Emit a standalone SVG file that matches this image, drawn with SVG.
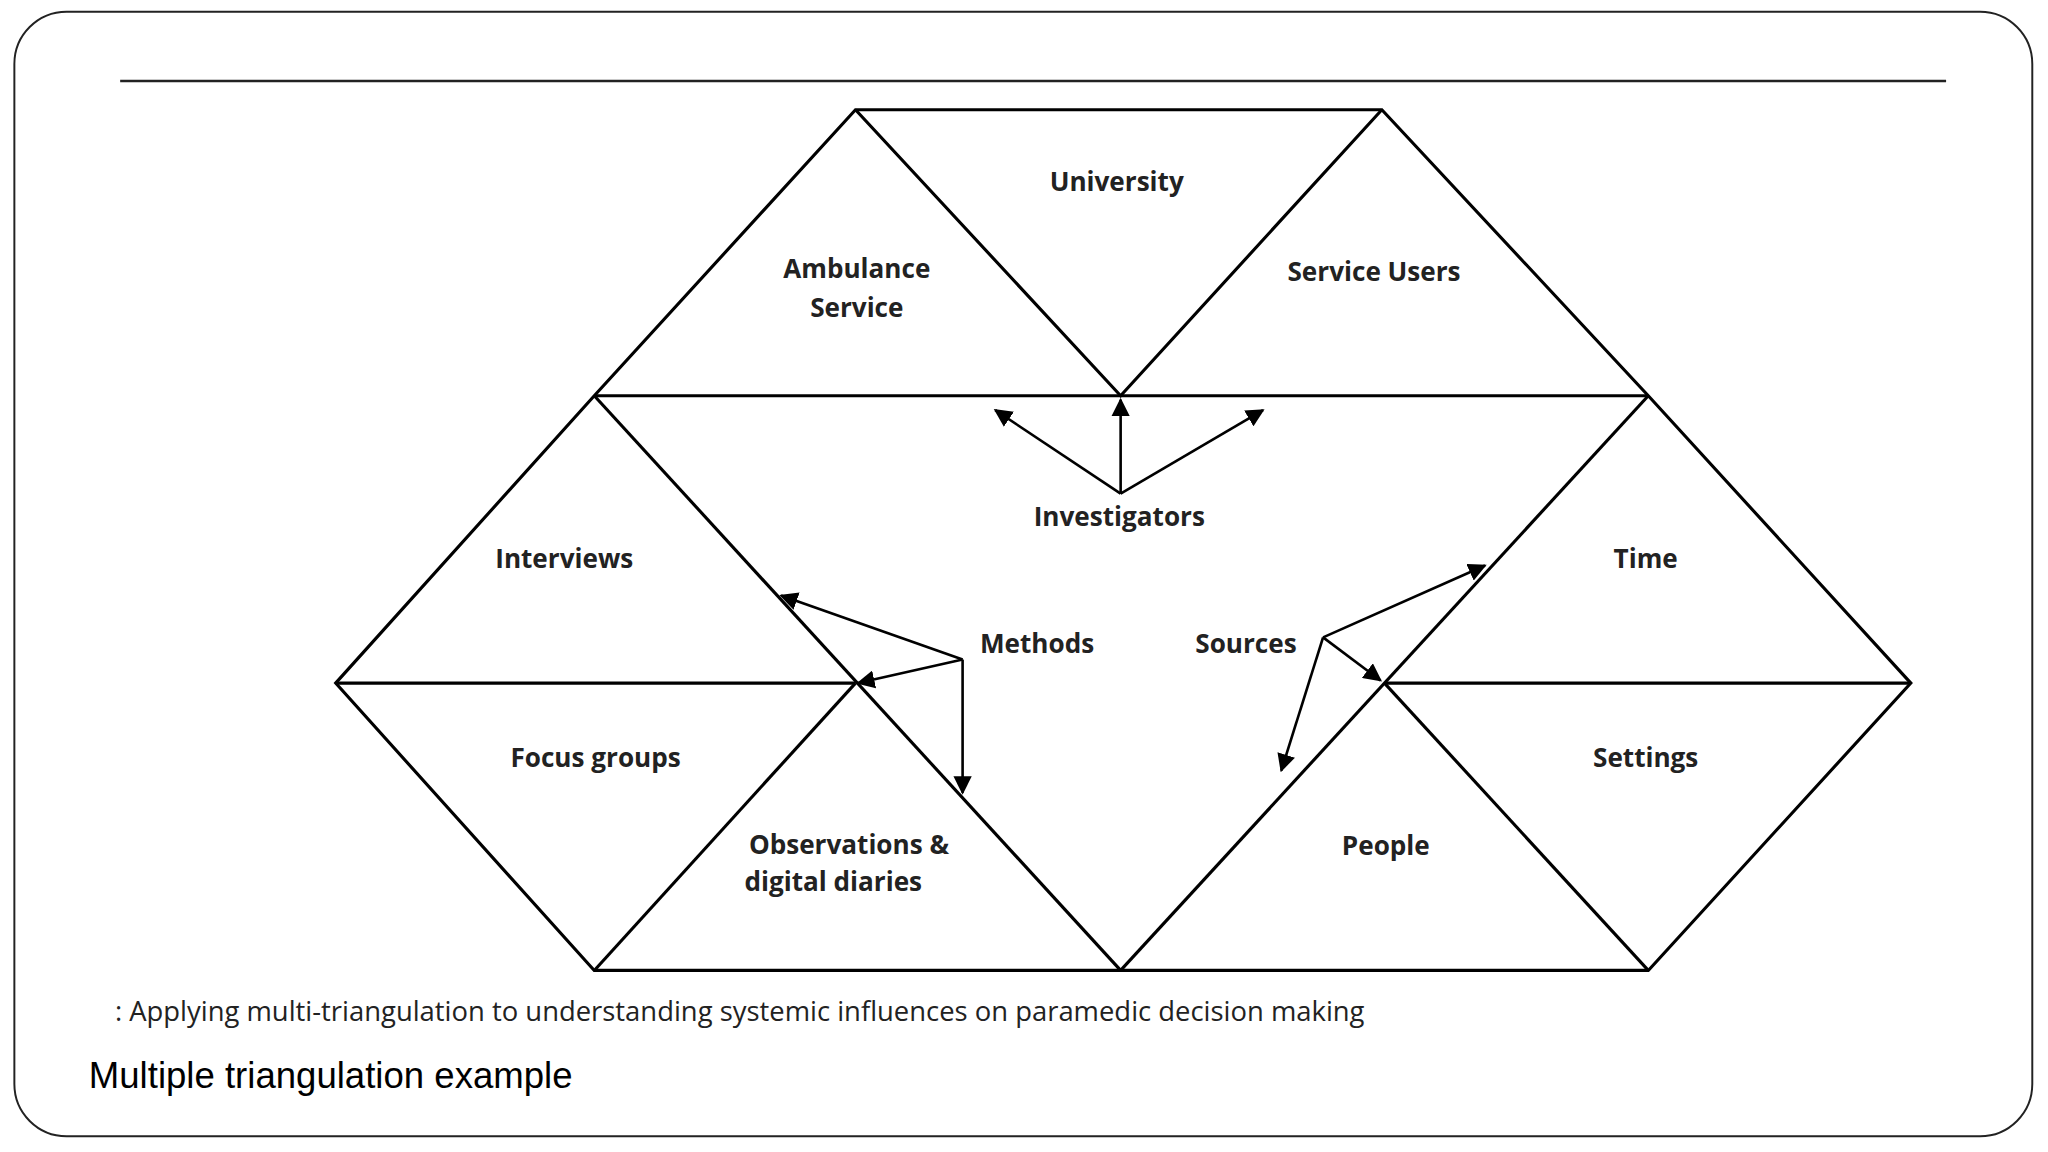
<svg xmlns="http://www.w3.org/2000/svg" width="2048" height="1152" viewBox="0 0 2048 1152">
<style>
.l{stroke:#000;stroke-width:2.4;fill:none}
.t{font-family:"Open Sans","DejaVu Sans",sans-serif;font-weight:bold;font-size:20px;fill:#222;text-anchor:middle}
</style>
<defs><marker id="a" viewBox="0 0 10 10" refX="9" refY="5" markerWidth="7" markerHeight="7" orient="auto"><path d="M0,0L10,5L0,10z" fill="#000"/></marker></defs>
<rect width="2048" height="1152" fill="#fff"/>
<g transform="scale(1.3061)">
<rect x="11" y="9" width="1545" height="861" rx="40" fill="none" stroke="#222" stroke-width="1.5"/>
<line x1="92" y1="62" x2="1490" y2="62" stroke="#222" stroke-width="2"/>
<g id="shape" class="l">
<polygon points="655,84 1058,84 1262,303 1463,523 1262,743 455,743 257,523 455,303"/>
<line x1="455" y1="303" x2="1262" y2="303"/>
<polyline points="655,84 858,303 1058,84"/>
<line x1="455" y1="303" x2="858" y2="743"/>
<line x1="1262" y1="303" x2="858" y2="743"/>
<line x1="257" y1="523" x2="655" y2="523"/>
<line x1="655" y1="523" x2="455" y2="743"/>
<line x1="1060" y1="523" x2="1463" y2="523"/>
<line x1="1060" y1="523" x2="1262" y2="743"/>
</g>
<g id="connectors" stroke="#000" stroke-width="2" marker-end="url(#a)">
<line x1="858" y1="378" x2="762" y2="314"/>
<line x1="858" y1="378" x2="858" y2="306"/>
<line x1="858" y1="378" x2="967" y2="314"/>
<line x1="737" y1="505" x2="598" y2="456"/>
<line x1="737" y1="505" x2="657" y2="523"/>
<line x1="737" y1="505" x2="737" y2="607"/>
<line x1="1013" y1="488" x2="1137" y2="433"/>
<line x1="1013" y1="488" x2="1057" y2="521"/>
<line x1="1013" y1="488" x2="981" y2="590"/>
</g>
<g id="labels">
<text class="t" x="855" y="146">University</text>
<text class="t" x="656" y="213">Ambulance</text>
<text class="t" x="656" y="243">Service</text>
<text class="t" x="1052" y="215">Service Users</text>
<text class="t" x="857" y="403">Investigators</text>
<text class="t" x="432" y="435">Interviews</text>
<text class="t" x="1260" y="435">Time</text>
<text class="t" x="794" y="500">Methods</text>
<text class="t" x="954" y="500">Sources</text>
<text class="t" x="456" y="587">Focus groups</text>
<text class="t" x="1260" y="587">Settings</text>
<text class="t" x="650" y="654" font-size="18">Observations &amp;</text>
<text class="t" x="638" y="682" font-size="18">digital diaries</text>
<text class="t" x="1061" y="655">People</text>
</g>
<text x="88" y="782" font-family="'Open Sans','DejaVu Sans',sans-serif" font-size="21" fill="#222">: Applying multi-triangulation to understanding systemic influences on paramedic decision making</text>
<text x="68" y="833" font-family="'Liberation Sans',Arial,sans-serif" font-size="28" fill="#000">Multiple triangulation example</text>
</g>
</svg>
